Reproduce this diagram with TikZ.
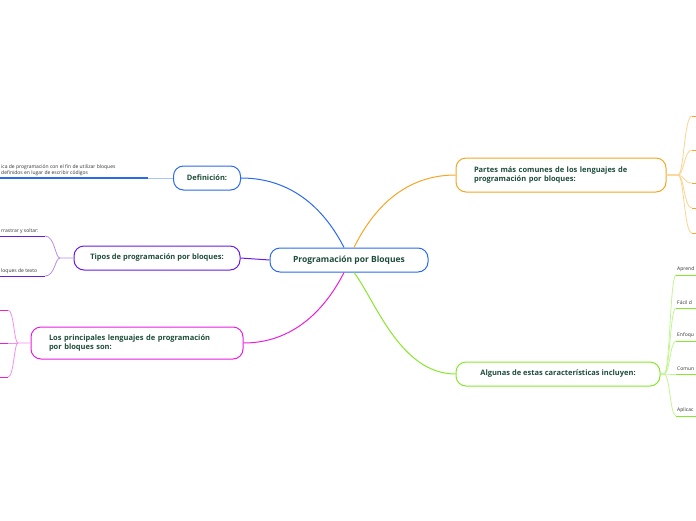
\documentclass[tikz,border=0pt]{standalone}
\usepackage{fontspec}
\setmainfont{Open Sans}
\begin{document}
\begin{tikzpicture}[x=1pt,y=-1pt,
  box/.style={draw, line width=1pt, rounded corners=10pt, fill=white, text=txt, font=\bfseries\fontsize{7.5}{9}\selectfont, align=left, inner xsep=10pt},
  leaf/.style={font=\fontsize{5}{6}\selectfont, text=black!80, anchor=south west, inner sep=1pt, align=left},
  con/.style={line width=1pt}]
\definecolor{txt}{HTML}{1E4D3A}
\definecolor{colB}{HTML}{2A6AF0}
\definecolor{colP}{HTML}{6A1BE0}
\definecolor{colM}{HTML}{E81FE0}
\definecolor{colO}{HTML}{F5A623}
\definecolor{colG}{HTML}{86E82A}
\useasboundingbox (0,0) rectangle (696,520);
\clip (0,0) rectangle (696,520);
% center
\node[box, draw=colB, minimum width=158pt, minimum height=24pt, font=\bfseries\fontsize{8.5}{10}\selectfont] (c) at (349,260) {Programación por Bloques};
% Definicion
\node[box, draw=colB, minimum width=67pt, minimum height=24pt] (d) at (207,178) {Definición:};
\draw[con, colB] (d.east) .. controls (300,178) and (330,220) .. ([xshift=-5pt]c.north);
\coordinate (d1) at (148,178);
\draw[colB!40, line width=1pt] (d.west) -- (d1);
\draw[colB, line width=1.5pt] (d1) -- (0,178);
\node[leaf, anchor=south west] (dt) at (0,177) {ica de programación con el fin de utilizar bloques\\definidos en lugar de escribir códigos};
% Tipos
\node[box, draw=colP, minimum width=166pt, minimum height=24pt] (t) at (157,258) {Tipos de programación por bloques:};
\draw[con, colP] (t.east) -- (c.west);
\coordinate (tf) at (60,258);
\draw[colP!50, line width=0.8pt] (t.west) -- (tf) .. controls (55,258) and (55,236) .. (45,236);
\draw[colP!50, line width=0.8pt] (tf) .. controls (55,258) and (55,276) .. (45,276);
\draw[colP, line width=1pt] (45,236) -- (0,236);
\draw[colP, line width=1pt] (45,276) -- (0,276);
\node[leaf] (t1) at (0,235) {rrastrar y soltar:};
\node[leaf] (t2) at (0,275) {loques de texto};
% Los principales
\node[box, draw=colM, minimum width=212pt, minimum height=32pt, text width=192pt, inner xsep=10pt, xshift=0pt] (l) at (137,343) {\hspace*{8pt}Los principales lenguajes de programación\\\hspace*{8pt}por bloques son:};
\draw[con, colM] (l.east) .. controls (300,343) and (330,300) .. ([xshift=-5pt]c.south);
\coordinate (lf) at (18,343);
\draw[colM!50, line width=0.8pt] (l.west) -- (lf) .. controls (14,343) and (14,310) .. (8,310);
\draw[colM!50, line width=0.8pt] (lf) -- (8,343);
\draw[colM!50, line width=0.8pt] (lf) .. controls (14,343) and (14,377) .. (8,377);
\draw[colM, line width=1pt] (8,310) -- (0,310);
\draw[colM, line width=1pt] (8,343) -- (0,343);
\draw[colM, line width=1pt] (8,377) -- (0,377);
% Partes
\node[box, draw=colO, minimum width=210pt, minimum height=34pt, text width=190pt] (p) at (561,175) {\hspace*{8pt}Partes más comunes de los lenguajes de\\\hspace*{8pt}programación por bloques:};
\draw[con, colO] (p.west) .. controls (400,175) and (370,215) .. ([xshift=5pt]c.north);
\coordinate (pf) at (678,175);
\foreach \y in {116,150,183,208,233}{
  \draw[colO!50, line width=0.8pt] (p.east) -- (pf) .. controls (684,175) and (684,\y) .. (692,\y);
  \draw[colO, line width=1pt] (692,\y) -- (696,\y);
}
% Algunas
\node[box, draw=colG, minimum width=204pt, minimum height=24pt] (a) at (558,374) {Algunas de estas características incluyen:};
\draw[con, colG] (a.west) .. controls (400,374) and (375,300) .. ([xshift=5pt]c.south);
\coordinate (af) at (664,374);
\foreach \y/\t in {275/Aprend,308/Fácil d,341/Enfoqu,374/Comun,416/Aplicac}{
  \draw[colG!50, line width=0.8pt] (a.east) -- (af) .. controls (670,374) and (670,\y) .. (676,\y);
  \draw[colG, line width=1pt] (676,\y) -- (696,\y);
  \node[leaf] at (676,\y-2) {\t};
}
\end{tikzpicture}
\end{document}
